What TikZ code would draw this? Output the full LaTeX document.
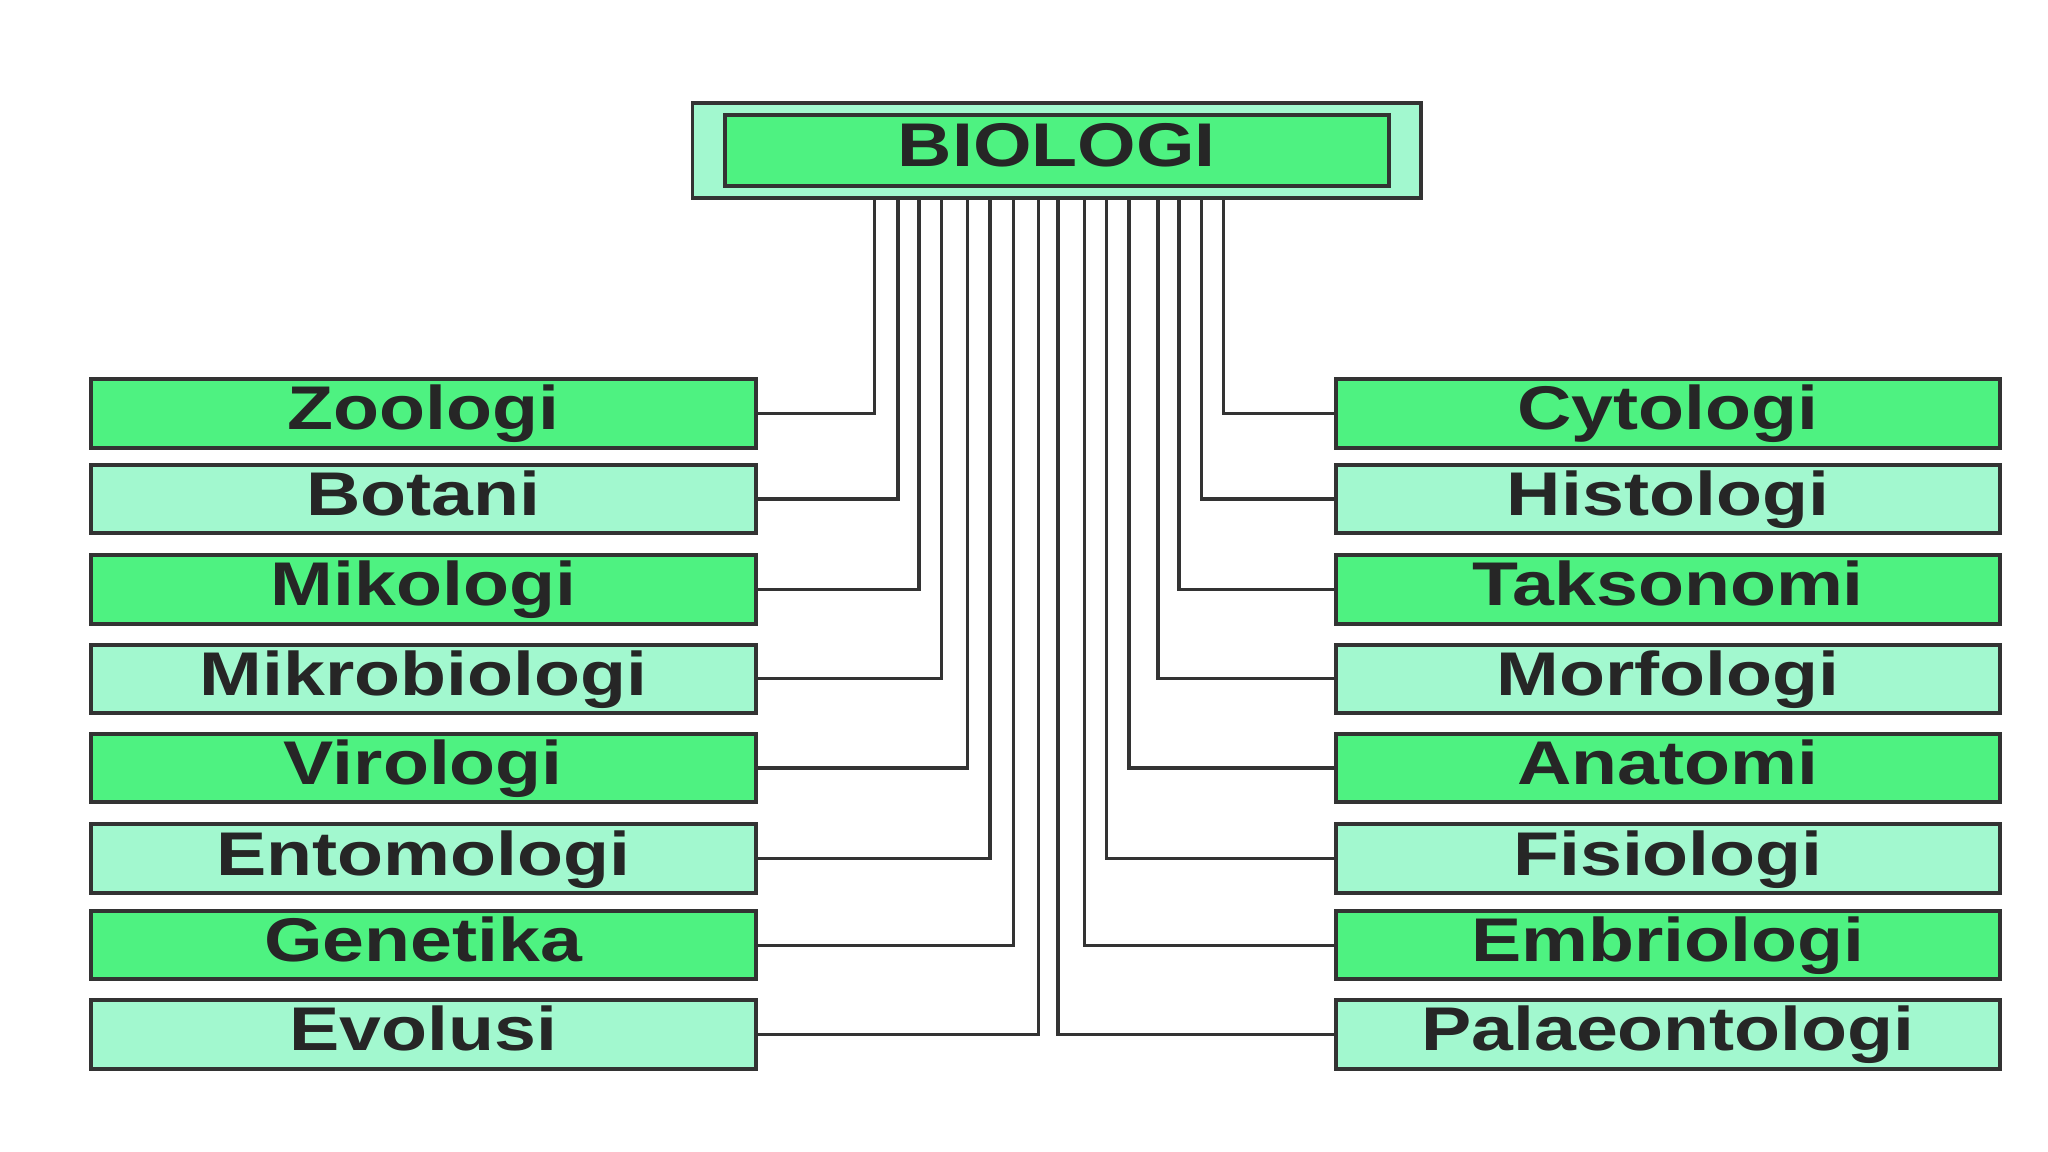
\documentclass[tikz,border=0pt]{standalone}
\usepackage{fontspec}
\setmainfont{Liberation Sans}
\newfontfamily\lab[FakeStretch=1.22]{Liberation Sans}
\definecolor{dg}{HTML}{4EF281}
\definecolor{lg}{HTML}{A2F8CF}
\definecolor{ln}{HTML}{333333}
\begin{document}
\begin{tikzpicture}[x=1pt,y=-1pt,
  box/.style={draw=ln,line width=3pt,minimum width=506pt,minimum height=52pt,inner sep=0pt,
    text height=34pt,text depth=9pt,
    font=\lab\bfseries\fontsize{47}{50}\selectfont,text=black!85},
  dk/.style={box,fill=dg},
  lt/.style={box,fill=lg},
  conn/.style={draw=ln,line width=2.6pt}]
\useasboundingbox (0,0) rectangle (1560,877.5);
\node[draw=ln,line width=3pt,fill=lg,minimum width=555pt,minimum height=72pt,inner sep=0pt] (bio) at (805,114.5) {};
\node[box,fill=dg,minimum width=506pt,minimum height=54pt] (bioin) at (805,114.5) {BIOLOGI};
\foreach \n/\t/\s/\y/\xv [count=\i] in {
  L1/Zoologi/dk/315/666, L2/Botani/lt/380/684, L3/Mikologi/dk/449/700,
  L4/Mikrobiologi/lt/517/717, L5/Virologi/dk/585/737, L6/Entomologi/lt/654/754,
  L7/Genetika/dk/720/772, L8/Evolusi/lt/788/791}{
  \node[\s] (\n) at (322.5,\y) {\t};
  \coordinate (t\n) at (\xv,152);
  \draw[conn] (\n.east) -| (t\n);
}
\foreach \n/\t/\s/\y/\xv [count=\i] in {
  R1/Cytologi/dk/315/932, R2/Histologi/lt/380/915, R3/Taksonomi/dk/449/898,
  R4/Morfologi/lt/517/882, R5/Anatomi/dk/585/860, R6/Fisiologi/lt/654/843,
  R7/Embriologi/dk/720/826, R8/Palaeontologi/lt/788/806}{
  \node[\s] (\n) at (1270.5,\y) {\t};
  \coordinate (t\n) at (\xv,152);
  \draw[conn] (\n.west) -| (t\n);
}
\end{tikzpicture}
\end{document}
